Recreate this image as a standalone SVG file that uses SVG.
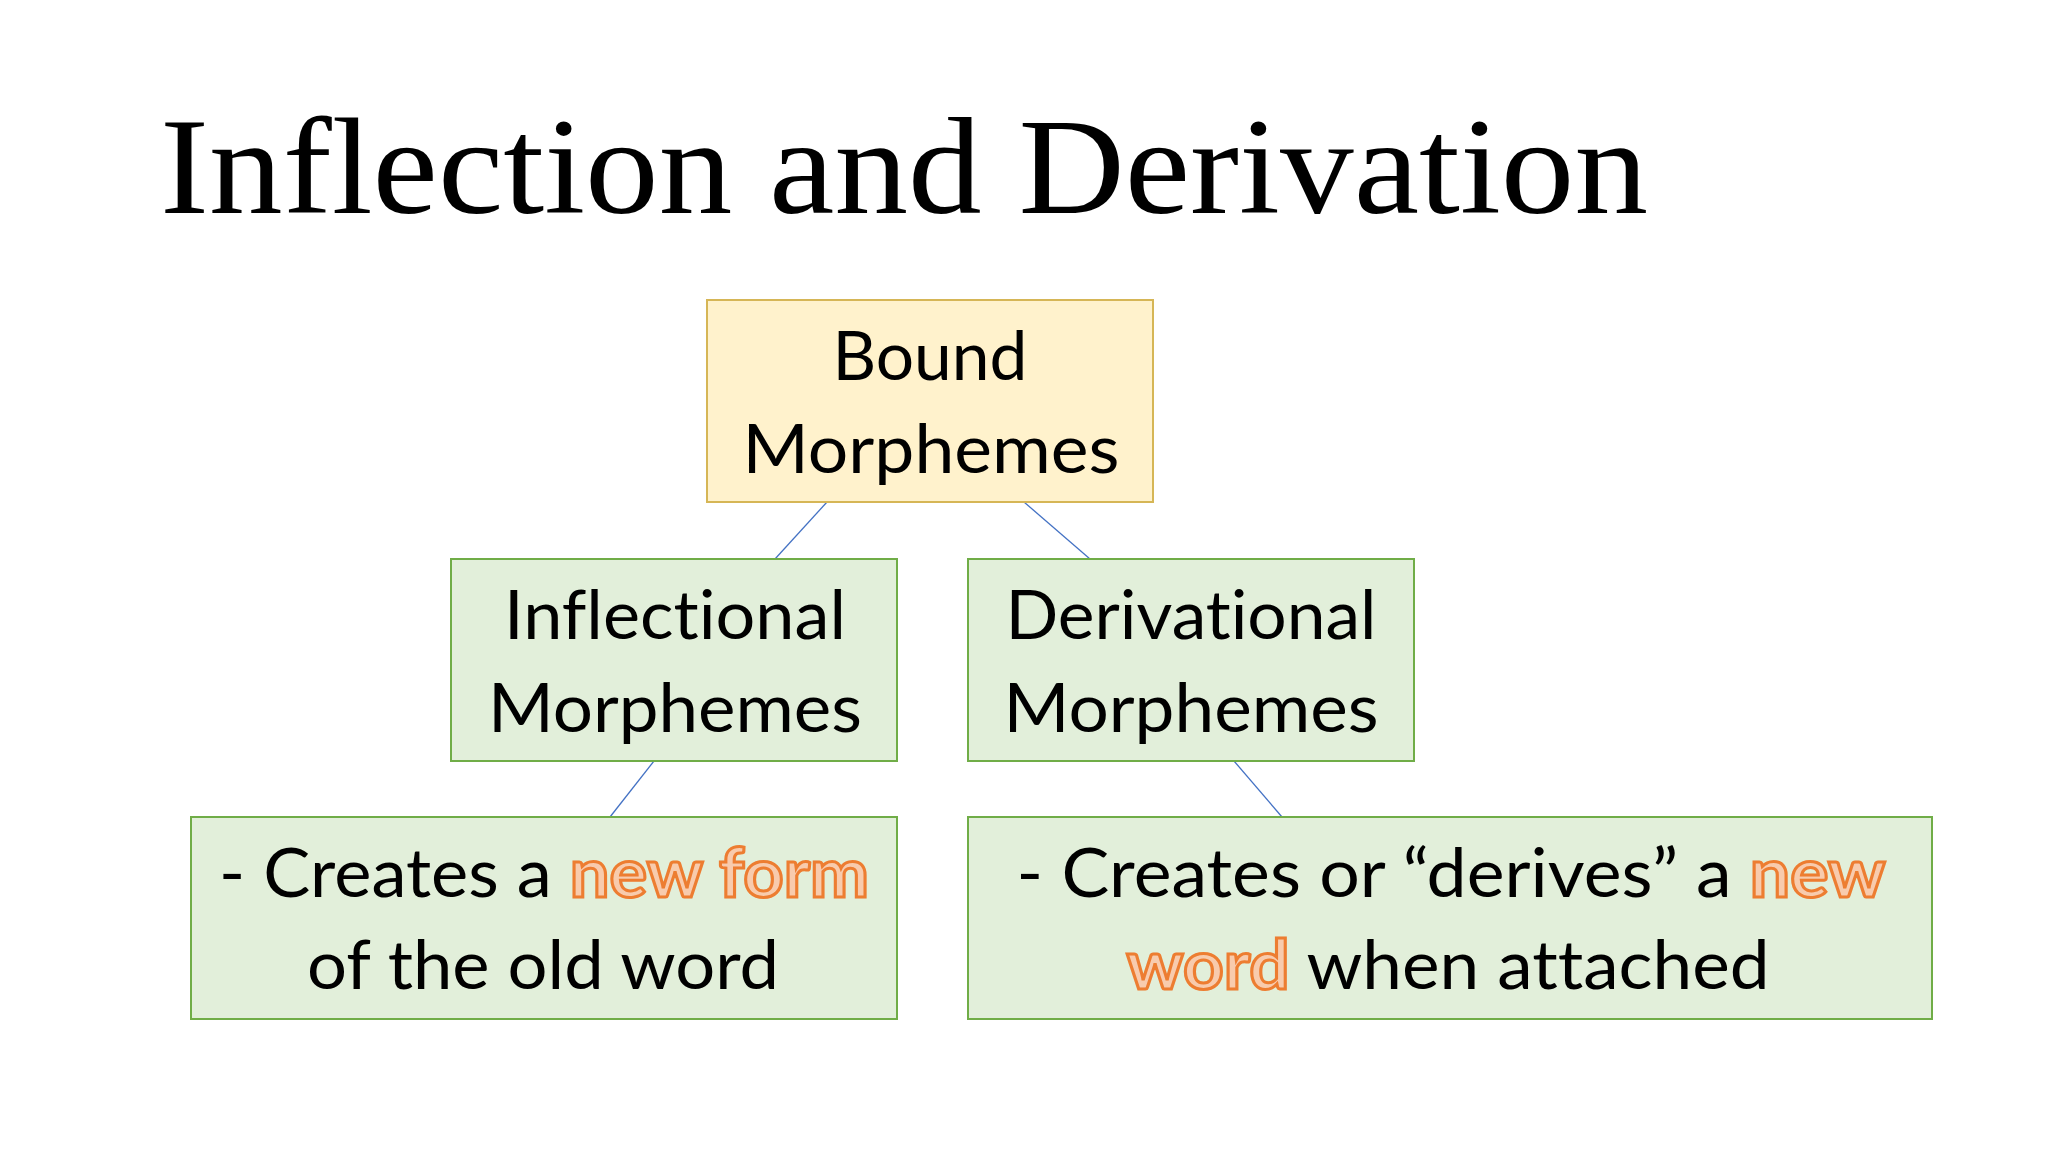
<svg xmlns="http://www.w3.org/2000/svg" width="2048" height="1152" viewBox="0 0 2048 1152">
<style>
.title{font-family:"Liberation Serif","Times New Roman",serif;font-size:137px;fill:#000}
.lbl{font-family:Lato,"Open Sans","Liberation Sans",sans-serif;font-size:68px;fill:#000;text-anchor:middle;font-variant-ligatures:none}
.hl{font-weight:bold;fill:#F8CBAD;stroke:#ED7D31;stroke-width:3px}
.green{fill:#E2EFDA;stroke:#70AD47;stroke-width:2}
.yellow{fill:#FFF2CC;stroke:#D6B656;stroke-width:2}
.conn{stroke:#4472C4;stroke-width:1.3;fill:none}
</style>
<rect width="2048" height="1152" fill="#FFFFFF"/>
<text class="title" x="160" y="213" textLength="1488" lengthAdjust="spacingAndGlyphs">Inflection and Derivation</text>
<g id="connectors">
<line class="conn" x1="827" y1="502" x2="775" y2="559"/>
<line class="conn" x1="1024" y1="502" x2="1090" y2="559"/>
<line class="conn" x1="654" y1="761" x2="610" y2="817"/>
<line class="conn" x1="1234" y1="761" x2="1282" y2="817"/>
</g>
<g id="bound">
<rect class="yellow" x="707" y="300" width="446" height="202"/>
<text class="lbl" x="930" y="380" textLength="195" lengthAdjust="spacingAndGlyphs">Bound</text>
<text class="lbl" x="931" y="473" textLength="377" lengthAdjust="spacingAndGlyphs">Morphemes</text>
</g>
<g id="inflectional">
<rect class="green" x="451" y="559" width="446" height="202"/>
<text class="lbl" x="675" y="639" textLength="342" lengthAdjust="spacingAndGlyphs">Inflectional</text>
<text class="lbl" x="675" y="732" textLength="374" lengthAdjust="spacingAndGlyphs">Morphemes</text>
</g>
<g id="derivational">
<rect class="green" x="968" y="559" width="446" height="202"/>
<text class="lbl" x="1191" y="639" textLength="371" lengthAdjust="spacingAndGlyphs">Derivational</text>
<text class="lbl" x="1191" y="732" textLength="375" lengthAdjust="spacingAndGlyphs">Morphemes</text>
</g>
<g id="inflectional-desc">
<rect class="green" x="191" y="817" width="706" height="202"/>
<text class="lbl" x="544" y="897" textLength="650" lengthAdjust="spacingAndGlyphs">- Creates a <tspan class="hl">new form</tspan></text>
<text class="lbl" x="543" y="989" textLength="472" lengthAdjust="spacingAndGlyphs">of the old word</text>
</g>
<g id="derivational-desc">
<rect class="green" x="968" y="817" width="964" height="202"/>
<text class="lbl" x="1451" y="897" textLength="869" lengthAdjust="spacingAndGlyphs">- Creates or “derives” a <tspan class="hl">new</tspan></text>
<text class="lbl" x="1448" y="989" textLength="643" lengthAdjust="spacingAndGlyphs"><tspan class="hl">word</tspan> when attached</text>
</g>
</svg>
